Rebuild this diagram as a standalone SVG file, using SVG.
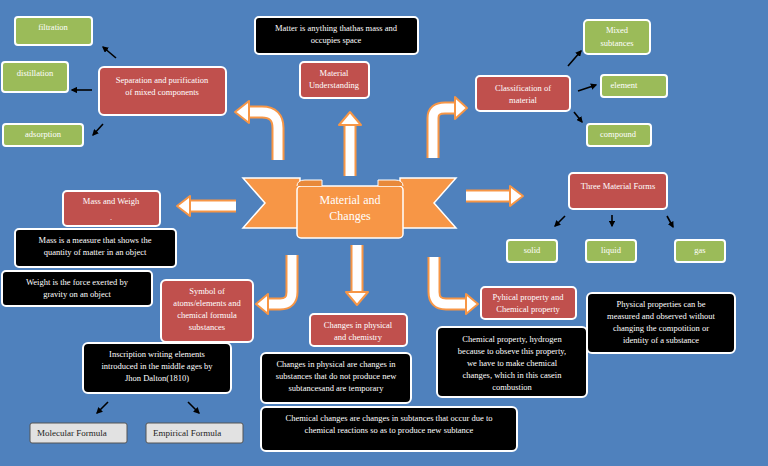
<svg xmlns="http://www.w3.org/2000/svg" width="768" height="466" viewBox="0 0 768 466">
<defs>
<marker id="ah" viewBox="0 0 10 10" refX="8" refY="5" markerWidth="4" markerHeight="4" orient="auto"><path d="M0,0L10,5L0,10z" fill="#000"/></marker>
<style>
.r{fill:#C0504D;stroke:#fff;stroke-width:2}
.g{fill:#9BBB59;stroke:#fff;stroke-width:2}
.b{fill:#000;stroke:#fff;stroke-width:2}
.s{fill:#e2e2e2;stroke:#555;stroke-width:1}
text{font-family:"Liberation Serif",serif;font-size:8.5px;fill:#fff;text-anchor:middle}
.dk{fill:#222;font-size:9px;text-anchor:start}
.sh{stroke:#F79646;stroke-width:13;fill:none;stroke-linejoin:round}
.sw{stroke:#fff;stroke-width:9;fill:none;stroke-linejoin:round}
.hd{fill:#fff;stroke:#F79646;stroke-width:2;stroke-linejoin:round}
.k{stroke:#000;stroke-width:1.6;fill:none;marker-end:url(#ah)}
</style>
</defs>
<rect width="768" height="466" fill="#4F81BD"/>
<g id="connectors">
<path class="sh" d="M278,160V128Q278,112 262,112H246"/><path class="sw" d="M278,160V128Q278,112 262,112H246"/><polygon class="hd" points="249,101 235,112 249,123"/>
<path class="sh" d="M350,176V124"/><path class="sw" d="M350,176V124"/><polygon class="hd" points="339,125 350,112 361,125"/>
<path class="sh" d="M433,158V118Q433,108 445,108H456"/><path class="sw" d="M433,158V118Q433,108 445,108H456"/><polygon class="hd" points="455,97 467,108 455,119"/>
<path class="sh" d="M236,206H188"/><path class="sw" d="M236,206H188"/><polygon class="hd" points="190,196 177,206 190,216"/>
<path class="sh" d="M466,196H511"/><path class="sw" d="M466,196H511"/><polygon class="hd" points="510,186 523,196 510,206"/>
<path class="sh" d="M357,245V293"/><path class="sw" d="M357,245V293"/><polygon class="hd" points="346,292 357,305 368,292"/>
<path class="sh" d="M292,255V292Q292,304 280,304H267"/><path class="sw" d="M292,255V292Q292,304 280,304H267"/><polygon class="hd" points="268,294 256,304 268,314"/>
<path class="sh" d="M434,257V292Q434,304 446,304H467"/><path class="sw" d="M434,257V292Q434,304 446,304H467"/><polygon class="hd" points="466,294 478,304 466,314"/>
<path class="k" d="M116,58L103,47"/>
<path class="k" d="M92,90H72"/>
<path class="k" d="M103,124L93,135"/>
<path class="k" d="M568,66L581,51"/>
<path class="k" d="M578,91L596,85"/>
<path class="k" d="M574,112L582,122"/>
<path class="k" d="M565,216L555,226"/>
<path class="k" d="M612,215V226"/>
<path class="k" d="M667,216L673,227"/>
<path class="k" d="M108,402L97,413"/>
<path class="k" d="M188,402L199,413"/>
</g>
<g id="banner">
<path d="M243,178H300V228H243L265,203z" fill="#F79646" stroke="#fff" stroke-width="1.5"/>
<path d="M456,178H400V228H456L434,203z" fill="#F79646" stroke="#fff" stroke-width="1.5"/>
<rect x="297" y="186" width="106" height="52" rx="4" fill="#F79646" stroke="#fff" stroke-width="1.5"/>
<path d="M297,186q0,-6 8,-6h17v6" fill="#E8893A" stroke="#fff" stroke-width="1"/>
<path d="M403,186q0,-6 -8,-6h-17v6" fill="#E8893A" stroke="#fff" stroke-width="1"/>
<text x="350" y="204" style="font-size:12px">Material and</text>
<text x="350" y="220" style="font-size:12px">Changes</text>
</g>
<g id="filtration"><rect class="g" x="15" y="17" width="77" height="28" rx="3"/><text x="53" y="30">filtration</text></g>
<g id="distillation"><rect class="g" x="2" y="62" width="66" height="30" rx="3"/><text x="35" y="76">distillation</text></g>
<g id="adsorption"><rect class="g" x="3" y="124" width="80" height="22" rx="3"/><text x="43" y="137">adsorption</text></g>
<g id="separation"><rect class="r" x="99" y="67" width="127" height="48" rx="5"/><text x="162" y="83">Separation and purification</text><text x="162" y="95">of mixed components</text></g>
<g id="matter"><rect class="b" x="255" y="17" width="163" height="37" rx="4"/><text x="336" y="31">Matter is anything thathas mass and</text><text x="336" y="43">occupies space</text></g>
<g id="understanding"><rect class="r" x="300" y="62" width="69" height="36" rx="4"/><text x="334" y="76">Material</text><text x="334" y="88">Understanding</text></g>
<g id="classification"><rect class="r" x="476" y="76" width="94" height="35" rx="4"/><text x="523" y="91">Classification of</text><text x="523" y="103">material</text></g>
<g id="mixed"><rect class="g" x="584" y="20" width="66" height="34" rx="4"/><text x="617" y="33">Mixed</text><text x="617" y="46">subtances</text></g>
<g id="element"><rect class="g" x="601" y="75" width="66" height="22" rx="3"/><text x="624" y="88">element</text></g>
<g id="compound"><rect class="g" x="587" y="124" width="64" height="22" rx="3"/><text x="618" y="137">compound</text></g>
<g id="forms"><rect class="r" x="569" y="173" width="98" height="36" rx="4"/><text x="618" y="189">Three Material Forms</text></g>
<g id="solid"><rect class="g" x="507" y="240" width="50" height="22" rx="3"/><text x="532" y="253">solid</text></g>
<g id="liquid"><rect class="g" x="586" y="240" width="50" height="22" rx="3"/><text x="611" y="253">liquid</text></g>
<g id="gas"><rect class="g" x="675" y="240" width="50" height="22" rx="3"/><text x="700" y="253">gas</text></g>
<g id="massweigh"><rect class="r" x="63" y="191" width="97" height="35" rx="4"/><text x="111" y="204">Mass and Weigh</text><text x="111" y="220">.</text></g>
<g id="massdef"><rect class="b" x="15" y="229" width="161" height="38" rx="4"/><text x="95" y="243">Mass is a measure that shows the</text><text x="95" y="255">quantity of matter in an object</text></g>
<g id="weightdef"><rect class="b" x="2" y="271" width="150" height="35" rx="4"/><text x="77" y="285">Weight is the force exerted by</text><text x="77" y="297">gravity on an object</text></g>
<g id="symbol"><rect class="r" x="161" y="280" width="92" height="62" rx="5"/><text x="207" y="294">Symbol of</text><text x="207" y="306">atoms/elements and</text><text x="207" y="318">chemical formula</text><text x="207" y="330">substances</text></g>
<g id="inscription"><rect class="b" x="83" y="343" width="148" height="50" rx="5"/><text x="157" y="357">Inscription writing elements</text><text x="157" y="369">introduced in the middle ages by</text><text x="157" y="381">Jhon Dalton(1810)</text></g>
<g id="molecular"><rect class="s" x="30" y="423" width="97" height="20" rx="2"/><text class="dk" x="37" y="436">Molecular Formula</text></g>
<g id="empirical"><rect class="s" x="146" y="423" width="97" height="20" rx="2"/><text class="dk" x="153" y="436">Empirical Formula</text></g>
<g id="changes"><rect class="r" x="310" y="314" width="97" height="32" rx="4"/><text x="358" y="328">Changes in physical</text><text x="358" y="340">and chemistry</text></g>
<g id="physchange"><rect class="b" x="261" y="353" width="150" height="50" rx="5"/><text x="336" y="367">Changes in physical are changes in</text><text x="336" y="379">substances that do not produce new</text><text x="336" y="391">subtancesand are temporary</text></g>
<g id="chemchange"><rect class="b" x="261" y="407" width="256" height="44" rx="5"/><text x="389" y="421">Chemical changes are changes in subtances that occur due to</text><text x="389" y="433">chemical reactions so as to produce new subtance</text></g>
<g id="property"><rect class="r" x="481" y="287" width="95" height="32" rx="4"/><text x="528" y="300">Pyhical property and</text><text x="528" y="312">Chemical property</text></g>
<g id="physprop"><rect class="b" x="587" y="293" width="148" height="60" rx="5"/><text x="661" y="307">Physical properties can be</text><text x="661" y="319">measured and observed without</text><text x="661" y="331">changing the compotition or</text><text x="661" y="343">identity of a substance</text></g>
<g id="chemprop"><rect class="b" x="437" y="327" width="150" height="70" rx="5"/><text x="512" y="342">Chemical property, hydrogen</text><text x="512" y="354">because to obseve this property,</text><text x="512" y="366">we have to make chemical</text><text x="512" y="378">changes, which in this casein</text><text x="512" y="390">combustion</text></g>
</svg>
